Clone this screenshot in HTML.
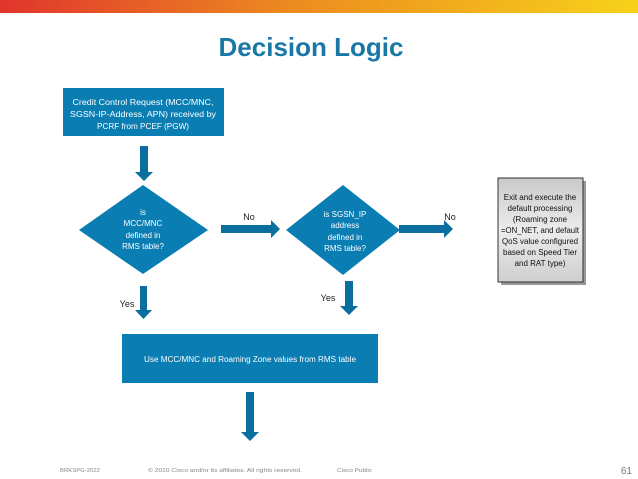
<!DOCTYPE html>
<html><head><meta charset="utf-8"><style>
html,body{margin:0;padding:0;background:#fff;}
svg{display:block;font-family:"Liberation Sans",Arial,sans-serif;}
</style></head><body>
<svg width="638" height="479" viewBox="0 0 638 479" xmlns="http://www.w3.org/2000/svg">
<defs>
<linearGradient id="bar" x1="0" x2="1" y1="0" y2="0">
<stop offset="0" stop-color="#e0352b"/><stop offset="0.45" stop-color="#ec8a20"/><stop offset="1" stop-color="#f7d21a"/>
</linearGradient>
<linearGradient id="gray" x1="0" x2="0" y1="0" y2="1">
<stop offset="0" stop-color="#c9c9c9"/><stop offset="0.5" stop-color="#ececec"/><stop offset="1" stop-color="#cfcfcf"/>
</linearGradient>
</defs>
<rect x="0" y="0" width="638" height="13" fill="url(#bar)"/>
<text x="311" y="56" text-anchor="middle" font-size="26" font-weight="bold" fill="#1a78a8">Decision Logic</text>

<g fill="#0a7db3">
<rect x="63" y="88" width="161" height="48"/>
<polygon points="143,185 208,230 143,274 79,230"/>
<polygon points="343,185 400,230 343,275 286,230"/>
<rect x="122" y="334" width="256" height="49"/>
</g>
<g fill="#fff" font-size="8" text-anchor="middle">
<text x="143" y="105" textLength="141" lengthAdjust="spacingAndGlyphs">Credit Control Request (MCC/MNC,</text>
<text x="143" y="117" textLength="146" lengthAdjust="spacingAndGlyphs">SGSN-IP-Address, APN) received by</text>
<text x="143" y="129" textLength="92" lengthAdjust="spacingAndGlyphs">PCRF from PCEF (PGW)</text>
<text x="143" y="215">is</text>
<text x="143" y="226">MCC/MNC</text>
<text x="143" y="238">defined in</text>
<text x="143" y="249">RMS table?</text>
<text x="345" y="217">is SGSN_IP</text>
<text x="345" y="228">address</text>
<text x="345" y="240">defined in</text>
<text x="345" y="251">RMS table?</text>
<text x="250" y="362" textLength="212" lengthAdjust="spacingAndGlyphs">Use MCC/MNC and Roaming Zone values from RMS table</text>
</g>

<g fill="#0a6f9f">
<polygon points="140,146 148,146 148,172 153,172 144,181 135,172 140,172"/>
<polygon points="221,225 271,225 271,220 280,229 271,238 271,233 221,233"/>
<polygon points="399,225 444,225 444,220 453,229 444,238 444,233 399,233"/>
<polygon points="140,286 147,286 147,310 152,310 143.5,319 135,310 140,310"/>
<polygon points="345,281 353,281 353,306 358,306 349,315 340,306 345,306"/>
<polygon points="246,392 254,392 254,432 259,432 250,441 241,432 246,432"/>
</g>

<rect x="501" y="181" width="85" height="104" fill="#999"/>
<rect x="498" y="178" width="85" height="104" fill="url(#gray)" stroke="#333" stroke-width="1"/>
<g font-size="8" text-anchor="middle" fill="#111">
<text x="540" y="200">Exit and execute the</text>
<text x="540" y="211">default processing</text>
<text x="540" y="222">(Roaming zone</text>
<text x="540" y="233" textLength="78" lengthAdjust="spacingAndGlyphs">=ON_NET, and default</text>
<text x="540" y="244" textLength="76" lengthAdjust="spacingAndGlyphs">QoS value configured</text>
<text x="540" y="255" textLength="74" lengthAdjust="spacingAndGlyphs">based on Speed Tier</text>
<text x="540" y="266">and RAT type)</text>
</g>

<g font-size="9" fill="#222">
<text x="249" y="220" text-anchor="middle">No</text>
<text x="450" y="220" text-anchor="middle">No</text>
<text x="127" y="307" text-anchor="middle">Yes</text>
<text x="328" y="301" text-anchor="middle">Yes</text>
</g>

<g font-size="5.5" fill="#888">
<text x="60" y="472" textLength="40" lengthAdjust="spacingAndGlyphs">BRKSPG-2022</text>
<text x="148" y="472" textLength="154" lengthAdjust="spacingAndGlyphs">© 2010 Cisco and/or its affiliates. All rights reserved.</text>
<text x="337" y="472" textLength="35" lengthAdjust="spacingAndGlyphs">Cisco Public</text>
</g>
<text x="632" y="474" font-size="10" fill="#777" text-anchor="end">61</text>
</svg>
</body></html>
